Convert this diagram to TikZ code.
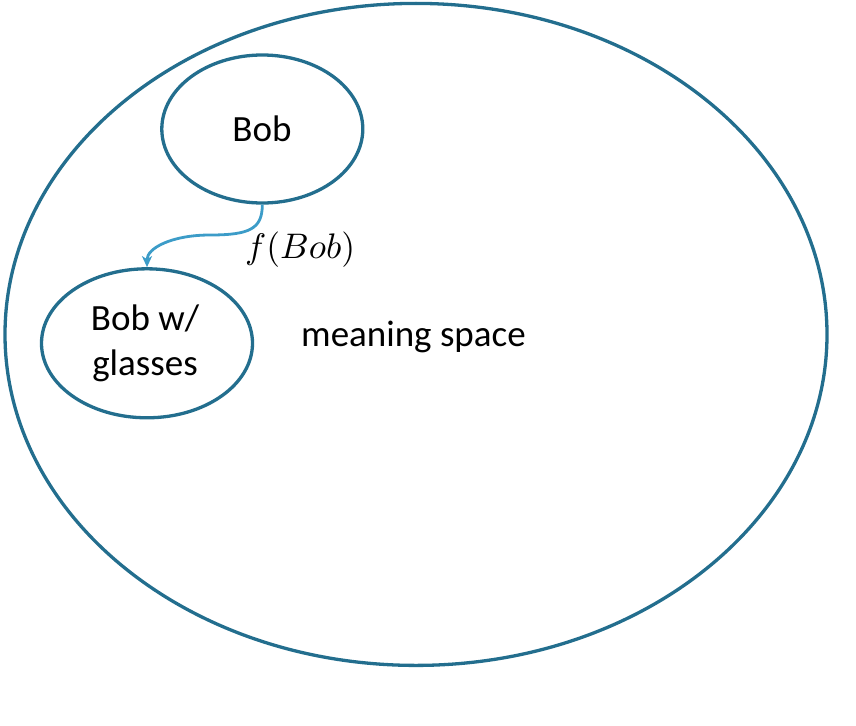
\documentclass[tikz,border=0pt]{standalone}
\usepackage{graphicx}
\usepackage{fontspec}
\setmainfont{Carlito}
\usetikzlibrary{shapes.geometric,arrows.meta}
\definecolor{ringblue}{RGB}{35,110,142}
\definecolor{arrowblue}{RGB}{60,156,200}
\tikzset{
  ring/.style={draw=ringblue, line width=3.3pt, ellipse, inner sep=0pt},
  lbl/.style={font=\fontsize{37}{45}\selectfont, inner sep=0pt},
  conn/.style={draw=arrowblue, line width=2.8pt, -{Stealth[length=11pt,width=10pt,inset=3pt]}}
}
\begin{document}
\begin{tikzpicture}[x=1pt,y=-1pt]
  \useasboundingbox (0,0) rectangle (856,725);
  \node[ring, minimum width=822pt, minimum height=662pt] (space) at (416,334.4) {};
  \node[ring, minimum width=201pt, minimum height=148pt] (bob) at (262.3,129) {};
  \node[ring, minimum width=211pt, minimum height=149pt] (glasses) at (147,343.3) {};
  \node[lbl, anchor=base] (bobtxt) at (262,141.7) {Bob};
  \node[lbl, align=center] (glassestxt) at (145,343) {Bob w/\\glasses};
  \node[lbl, anchor=base west] (meaning) at (301,346.7) {meaning space};
  \node[inner sep=0pt, anchor=base west] (flabel) at (245,258) {\scalebox{3.55}{$f(Bob)$}};
  \draw[conn] (bob.south) .. controls ++(0,24) and (250,235) .. (210,235)
              .. controls (172,235) and (147,248) .. (glasses.north);
\end{tikzpicture}
\end{document}
